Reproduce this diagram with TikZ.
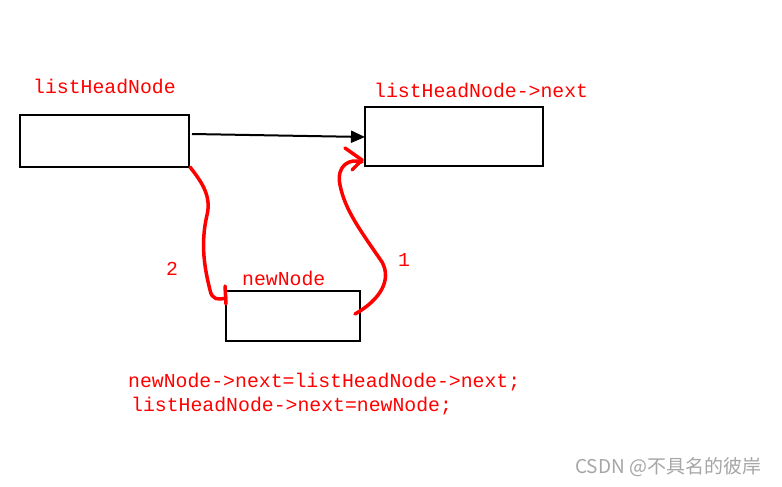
\documentclass[tikz,border=0pt]{standalone}
\usepackage{fontspec}
\setmonofont{Liberation Mono}
\newfontfamily\cjk{Noto Sans CJK SC}
\usetikzlibrary{arrows.meta}
\begin{document}
\begin{tikzpicture}[x=1pt,y=-1pt,
  lbl/.style={text=red,font=\ttfamily\fontsize{19.8}{22}\selectfont,anchor=west,inner sep=0},
  redline/.style={draw=red,line width=3.5pt,line cap=round,line join=round}]
\useasboundingbox[fill=white] (0,0) rectangle (782,487);
\draw[line width=2pt] (20,115) rectangle (189,167);
\draw[line width=2pt] (365,107) rectangle (543,166);
\path (365,137) coordinate (bW);
\draw[line width=2pt] (226,291) rectangle (360,341);
\coordinate (aE) at (192,134);
\draw[line width=2pt,-{Triangle[length=14pt,width=12pt]}] (aE) -- (bW);
\node[lbl] (l1) at (33,86) {listHeadNode};
\node[lbl] (l2) at (374,90) {listHeadNode->next};
\node[lbl] (l3) at (242,278) {newNode};
\node[lbl] (n2) at (166,269) {2};
\node[lbl] (n1) at (398,260) {1};
\node[lbl] (c1) at (128,382) {newNode->next=listHeadNode->next;};
\node[lbl] (c2) at (131,406) {listHeadNode->next=newNode;};
\node[anchor=west,inner sep=0,text=gray!70,font=\cjk\fontsize{19}{21}\selectfont] (wm) at (575,467) {CSDN @不具名的彼岸};
% curve 2
\draw[redline] (190,167) .. controls (200,180) and (212,195) .. (207,215)
  .. controls (200,245) and (205,270) .. (210,290) .. controls (212,300) and (218,300) .. (226,298);
\draw[redline] (225,286) -- (226,304);
% curve 1
\draw[redline] (355,314) .. controls (380,300) and (392,280) .. (382,262)
  .. controls (360,230) and (345,210) .. (340,185) .. controls (336,165) and (350,158) .. (362,162);
\draw[redline] (345,148) -- (362,160) -- (352,170);
\end{tikzpicture}
\end{document}
